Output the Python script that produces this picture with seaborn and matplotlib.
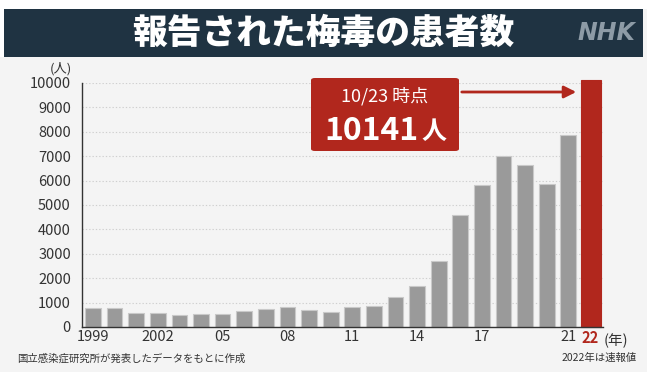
import matplotlib
matplotlib.use("Agg")
import matplotlib.pyplot as plt
import seaborn as sns
import pandas as pd
from matplotlib.patches import FancyBboxPatch, Rectangle

# データ
years = list(range(1999, 2023))
patients = [759, 759, 585, 575, 509, 533, 543, 637, 719, 831, 691, 621,
            827, 875, 1228, 1661, 2690, 4575, 5826, 7007, 6642, 5867, 7875, 10141]
tick_labels = ['1999', '', '', '2002', '', '', '05', '', '', '08', '', '',
               '11', '', '', '14', '', '', '17', '', '', '', '21', '22']
yticks = list(range(0, 10001, 1000))

BG = '#f4f4f4'
GRAY = '#9a9a9a'
RED = '#b1271d'
NAVY = '#1f3342'

sns.set_theme(style='white')
plt.rcParams['font.family'] = ['Noto Sans CJK JP', 'DejaVu Sans']

df = pd.DataFrame({'year': [str(y) for y in years], 'n': patients})
colors = {str(y): (RED if y == 2022 else GRAY) for y in years}

fig = plt.figure(figsize=(6.47, 3.72), dpi=100, facecolor=BG)
ax = fig.add_axes([0.1267, 0.121, 0.805, 0.656])
ax.set_facecolor(BG)

sns.barplot(data=df, x='year', y='n', hue='year', palette=colors, legend=False,
            width=0.73, ax=ax, saturation=1, edgecolor='#c9c9c9', linewidth=0.8)

# 2022年のバーは少し太く
last = ax.patches[-1]
last.set_width(0.92)
last.set_x(23.05 - 0.46)
last.set_edgecolor(RED)
for p in ax.patches:
    p.set_clip_on(False)

ax.set_xlim(-0.51, 23.6)
ax.set_ylim(0, 10000)
ax.set_yticks(yticks)
ax.set_yticklabels([str(v) for v in yticks], fontsize=10.5, color='#333333')
ax.yaxis.grid(True, linestyle=(0, (1.2, 1.8)), color='#cfcfcf', linewidth=0.8)
ax.set_axisbelow(True)
ax.set_xticks(range(len(years)))
ax.set_xticklabels(tick_labels, fontsize=10.5, color='#333333')
lbls = ax.get_xticklabels()
lbls[-1].set_color(RED)
lbls[-1].set_fontweight('bold')
ax.tick_params(axis='x', length=0, pad=2)
ax.tick_params(axis='y', length=0, pad=8)
ax.set_xlabel('')
ax.set_ylabel('')
for s in ['top', 'right']:
    ax.spines[s].set_visible(False)
for s in ['left', 'bottom']:
    ax.spines[s].set_color('#333333')
    ax.spines[s].set_linewidth(1.0)

ax.text(-1.5, 10600, '(人)', ha='center', va='center', fontsize=9.5, color='#333333')
ax.text(23.62, -250, '(年)', ha='left', va='top', fontsize=10.5, color='#333333')

# 上端の白帯とタイトル帯
fig.patches.append(Rectangle((0, 1 - 9 / 372), 1, 9 / 372,
                             transform=fig.transFigure, facecolor='white', edgecolor='none'))
fig.patches.append(Rectangle((0, 1 - 57 / 372), 4 / 647, 48 / 372,
                             transform=fig.transFigure, facecolor='white', edgecolor='none'))
fig.patches.append(Rectangle((4 / 647, 1 - 57 / 372), 639 / 647, 48 / 372,
                             transform=fig.transFigure, facecolor=NAVY, edgecolor='none'))
fig.text(0.5, 1 - 33 / 372, '報告された梅毒の患者数', ha='center', va='center',
         fontsize=25, fontweight='black', color='white')
fig.text(0.982, 1 - 33 / 372, 'NHK', ha='right', va='center', fontsize=17,
         fontweight='bold', style='italic', color='#8d9ba6', family='DejaVu Sans')

# 注記ボックス
fig.patches.append(FancyBboxPatch((311 / 647, 1 - 151 / 372), 148 / 647, 73 / 372,
                                  boxstyle='round,pad=0,rounding_size=0.006',
                                  transform=fig.transFigure, facecolor=RED, edgecolor='none'))
fig.text(385 / 647, 1 - 96 / 372, '10/23 時点', ha='center', va='center',
         fontsize=13, color='white')
fig.text(371 / 647, 1 - 131 / 372, '10141', ha='center', va='center',
         fontsize=23, fontweight='bold', color='white')
fig.text(434 / 647, 1 - 132 / 372, '人', ha='center', va='center',
         fontsize=18, fontweight='bold', color='white')
fig.add_artist(plt.Annotation('', xy=(579 / 647, 1 - 92 / 372), xytext=(459 / 647, 1 - 92 / 372),
                              xycoords='figure fraction', textcoords='figure fraction',
                              arrowprops=dict(arrowstyle='-|>,head_length=0.6,head_width=0.3',
                                              color=RED, lw=2)))

# 出典
fig.text(17 / 647, 1 - 358 / 372, '国立感染症研究所が発表したデータをもとに作成',
         ha='left', va='center', fontsize=7.5, color='#333333')
fig.text(637 / 647, 1 - 358 / 372, '2022年は速報値',
         ha='right', va='center', fontsize=7.5, color='#333333')

fig.savefig('out.png', dpi=100, facecolor=BG)
